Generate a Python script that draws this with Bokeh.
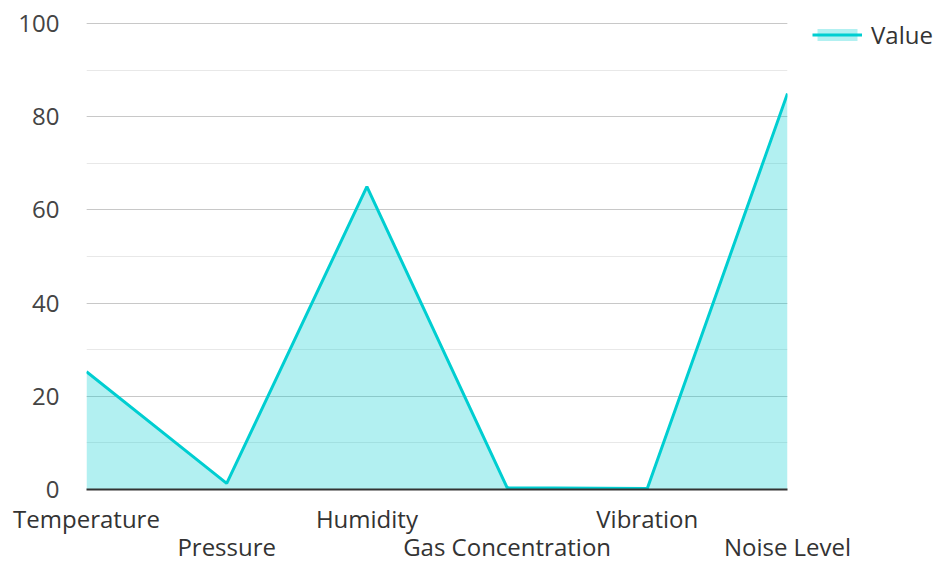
from bokeh.plotting import figure
from bokeh.models import (ColumnDataSource, Range1d, FixedTicker, LinearAxis,
                          Legend, LegendItem)
from bokeh.embed import file_html
from bokeh.resources import INLINE

categories = ["Temperature", "Pressure", "Humidity", "Gas Concentration", "Vibration", "Noise Level"]
values = [25.3, 1.3, 65.0, 0.4, 0.2, 85.0]
y_ticks = [0, 20, 40, 60, 80, 100]
y_minor = [0, 10, 20, 30, 40, 50, 60, 70, 80, 90, 100]

x_pos = list(range(len(categories)))
src = ColumnDataSource(dict(x=x_pos, y=values, y0=[0] * len(values)))

FONT = "Open Sans"
FS = "24px"
LINE = "#00CED1"

p = figure(frame_width=701, frame_height=467, output_backend="svg", toolbar_location=None,
           x_range=Range1d(0, len(categories) - 1), y_range=Range1d(0, 100.25),
           min_border_left=86, min_border_top=22, min_border_right=149, min_border_bottom=73,
           x_axis_location=None, y_axis_location=None)
p.outline_line_color = None
p.background_fill_color = "white"

area = p.varea(x="x", y1="y0", y2="y", source=src, fill_color=LINE, fill_alpha=0.3)
line = p.line(x="x", y="y", source=src, line_color=LINE, line_width=3)

# y axis
yax = LinearAxis(ticker=FixedTicker(ticks=y_ticks, minor_ticks=y_minor))
yax.axis_line_color = None
yax.major_tick_line_color = None
yax.minor_tick_line_color = None
yax.major_tick_in = 0
yax.major_tick_out = 0
yax.minor_tick_in = 0
yax.minor_tick_out = 0
yax.major_label_text_font = FONT
yax.major_label_text_font_size = FS
yax.major_label_text_color = "#444444"
yax.major_label_standoff = 27
p.add_layout(yax, "left")

# x axes (staggered)
even = [i for i in x_pos if i % 2 == 0]
odd = [i for i in x_pos if i % 2 == 1]
xax1 = LinearAxis(ticker=FixedTicker(ticks=even),
                  major_label_overrides={i: categories[i] for i in even})
xax2 = LinearAxis(ticker=FixedTicker(ticks=odd),
                  major_label_overrides={i: categories[i] for i in odd})
for ax in (xax1, xax2):
    ax.major_tick_line_color = None
    ax.minor_tick_line_color = None
    ax.major_tick_in = 0
    ax.major_tick_out = 0
    ax.minor_tick_in = 0
    ax.minor_tick_out = 0
    ax.major_label_text_font = FONT
    ax.major_label_text_font_size = FS
    ax.major_label_text_color = "#333333"
xax1.axis_line_color = "#333333"
xax1.axis_line_width = 2
xax1.major_label_standoff = 12
xax2.axis_line_color = None
xax2.major_label_standoff = -8
p.add_layout(xax1, "below")
p.add_layout(xax2, "below")

p.ygrid.ticker = FixedTicker(ticks=y_ticks, minor_ticks=y_minor)
p.ygrid.grid_line_color = "#c8c8c8"
p.ygrid.minor_grid_line_color = "#e8e8e8"
p.xgrid.grid_line_color = None

legend = Legend(items=[LegendItem(label="Value", renderers=[area, line])],
                location=(25, 438), border_line_color=None, background_fill_alpha=0,
                label_text_font=FONT, label_text_font_size=FS, label_text_color="#333333",
                glyph_width=50, glyph_height=15, padding=0, margin=0, spacing=0,
                label_standoff=9)
p.add_layout(legend, "right")

open("out.html", "w").write(file_html(p, INLINE))
